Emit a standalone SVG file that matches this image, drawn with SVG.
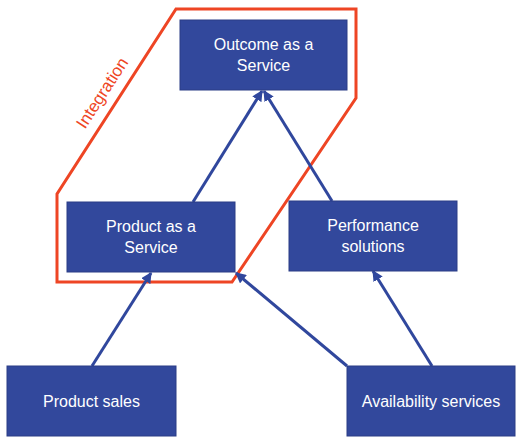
<svg xmlns="http://www.w3.org/2000/svg" width="521" height="447" viewBox="0 0 521 447">
  <style>
    .box { fill: #32489C; stroke: #2A3D86; stroke-width: 1; }
    .lbl { font-family: "Liberation Sans", Arial, sans-serif; font-size: 16px; fill: #FFFFFF; text-anchor: middle; }
    .conn { stroke: #30479D; stroke-width: 3; fill: none; marker-end: url(#arr); }
    .integ { fill: none; stroke: #EE4524; stroke-width: 3; stroke-linejoin: miter; }
  </style>
  <defs>
    <marker id="arr" viewBox="0 0 10 10" refX="9" refY="5" markerWidth="3.6" markerHeight="3.6" orient="auto" markerUnits="strokeWidth">
      <path d="M0,0 L10,5 L0,10 Z" fill="#30479D"/>
    </marker>
  </defs>
  <rect width="521" height="447" fill="#FFFFFF"/>

  <g id="integration">
    <polygon class="integ" points="176,9 356,9 356,98 232,282 57,282 57,194"/>
    <text transform="translate(107,96) rotate(-57)" x="0" y="0" font-family="Liberation Sans, Arial, sans-serif" font-size="17" fill="#EE4524" text-anchor="middle">Integration</text>
  </g>

  <g id="connectors">
    <line class="conn" x1="92" y1="366" x2="151" y2="273"/>
    <line class="conn" x1="347" y1="366" x2="236" y2="273"/>
    <line class="conn" x1="432" y1="366" x2="373" y2="271"/>
    <line class="conn" x1="193" y1="202" x2="262" y2="91"/>
    <line class="conn" x1="332" y1="201" x2="264" y2="91"/>
  </g>

  <g id="outcome">
    <rect class="box" x="180" y="20" width="167" height="70"/>
    <text class="lbl" x="263.5" y="50">Outcome as a</text>
    <text class="lbl" x="263.5" y="71">Service</text>
  </g>

  <g id="product-service">
    <rect class="box" x="67" y="202" width="168" height="70"/>
    <text class="lbl" x="151" y="232">Product as a</text>
    <text class="lbl" x="151" y="253">Service</text>
  </g>

  <g id="performance">
    <rect class="box" x="289" y="201" width="168" height="70"/>
    <text class="lbl" x="373" y="231">Performance</text>
    <text class="lbl" x="373" y="252">solutions</text>
  </g>

  <g id="product-sales">
    <rect class="box" x="7" y="366" width="169" height="70"/>
    <text class="lbl" x="91.5" y="407">Product sales</text>
  </g>

  <g id="availability">
    <rect class="box" x="347" y="366" width="168" height="70"/>
    <text class="lbl" x="431" y="407">Availability services</text>
  </g>
</svg>
